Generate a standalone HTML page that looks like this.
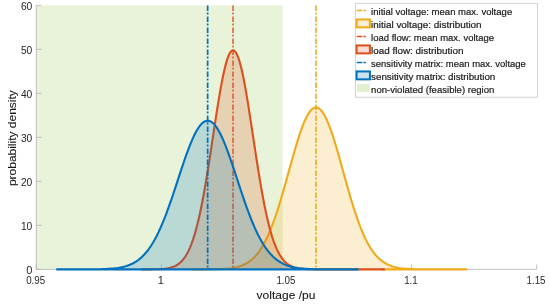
<!DOCTYPE html><html><head><meta charset="utf-8"><title>plot</title><style>html,body{margin:0;padding:0;background:#fff}svg{display:block}text{font-family:"Liberation Sans",sans-serif;fill:#1a1a1a;stroke:#1a1a1a;stroke-width:0.2px}text.t{fill:#262626;stroke:none}text.a{stroke-width:0.1px}</style></head><body>
<svg width="550" height="305" viewBox="0 0 550 305">
<rect width="550" height="305" fill="#fff"/>
<rect x="36.3" y="5.4" width="246.3" height="264.0" fill="#E9F3DA"/>
<g stroke="#b2b2b2" stroke-width="0.8" fill="none">
<path d="M36.3 5.4 V269.4 H536.6"/>
<path d="M36.30 269.4 v-5"/>
<path d="M161.38 269.4 v-5"/>
<path d="M286.45 269.4 v-5"/>
<path d="M411.53 269.4 v-5"/>
<path d="M536.60 269.4 v-5"/>
<path d="M36.3 269.40 h5"/>
<path d="M36.3 225.40 h5"/>
<path d="M36.3 181.40 h5"/>
<path d="M36.3 137.40 h5"/>
<path d="M36.3 93.40 h5"/>
<path d="M36.3 49.40 h5"/>
<path d="M36.3 5.40 h5"/>
</g>
<path d="M315.97 5.4 V269.4" stroke="#EFAB1A" stroke-width="1.6" stroke-dasharray="5.5 1.6 2.1 1.8" fill="none"/>
<path d="M191.39 269.40 L193.11 269.39 L194.83 269.39 L196.55 269.39 L198.27 269.39 L199.99 269.38 L201.71 269.38 L203.43 269.37 L205.15 269.36 L206.87 269.35 L208.59 269.34 L210.31 269.32 L212.03 269.30 L213.75 269.27 L215.47 269.23 L217.19 269.19 L218.91 269.13 L220.63 269.06 L222.35 268.98 L224.07 268.88 L225.79 268.76 L227.51 268.61 L229.23 268.43 L230.95 268.21 L232.67 267.95 L234.39 267.65 L236.11 267.28 L237.83 266.85 L239.55 266.35 L241.27 265.76 L242.99 265.07 L244.71 264.27 L246.43 263.36 L248.15 262.30 L249.87 261.10 L251.59 259.73 L253.31 258.18 L255.02 256.44 L256.74 254.48 L258.46 252.30 L260.18 249.88 L261.90 247.21 L263.62 244.27 L265.34 241.05 L267.06 237.55 L268.78 233.76 L270.50 229.69 L272.22 225.32 L273.94 220.67 L275.66 215.74 L277.38 210.56 L279.10 205.13 L280.82 199.49 L282.54 193.65 L284.26 187.66 L285.98 181.54 L287.70 175.35 L289.42 169.12 L291.14 162.91 L292.86 156.78 L294.58 150.76 L296.30 144.93 L298.02 139.33 L299.74 134.03 L301.46 129.07 L303.18 124.52 L304.90 120.42 L306.62 116.82 L308.34 113.76 L310.06 111.28 L311.78 109.40 L313.50 108.15 L315.22 107.54 L316.94 107.58 L318.66 108.27 L320.38 109.61 L322.10 111.56 L323.82 114.12 L325.54 117.25 L327.26 120.92 L328.98 125.08 L330.70 129.68 L332.42 134.68 L334.13 140.03 L335.85 145.66 L337.57 151.52 L339.29 157.55 L341.01 163.70 L342.73 169.91 L344.45 176.14 L346.17 182.32 L347.89 188.43 L349.61 194.40 L351.33 200.22 L353.05 205.84 L354.77 211.23 L356.49 216.39 L358.21 221.28 L359.93 225.89 L361.65 230.22 L363.37 234.26 L365.09 238.01 L366.81 241.47 L368.53 244.65 L370.25 247.56 L371.97 250.20 L373.69 252.59 L375.41 254.74 L377.13 256.67 L378.85 258.39 L380.57 259.92 L382.29 261.26 L384.01 262.44 L385.73 263.48 L387.45 264.38 L389.17 265.16 L390.89 265.84 L392.61 266.41 L394.33 266.91 L396.05 267.33 L397.77 267.69 L399.49 267.99 L401.21 268.24 L402.93 268.45 L404.65 268.63 L406.37 268.77 L408.09 268.89 L409.81 268.99 L411.53 269.07 L413.24 269.14 L414.96 269.19 L416.68 269.24 L418.40 269.27 L420.12 269.30 L421.84 269.32 L423.56 269.34 L425.28 269.35 L427.00 269.36 L428.72 269.37 L430.44 269.38 L432.16 269.38 L433.88 269.39 L435.60 269.39 L437.32 269.39 L439.04 269.39 L440.76 269.40 L442.48 269.40 L444.20 269.40 L445.92 269.40 L447.64 269.40 L449.36 269.40 L451.08 269.40 L452.80 269.40 L454.52 269.40 L456.24 269.40 L457.96 269.40 L459.68 269.40 L461.40 269.40 L463.12 269.40 L464.84 269.40 L466.56 269.40 Z" fill="#EFAB1A" fill-opacity="0.2" stroke="none"/>
<path d="M191.39 269.40 L193.11 269.39 L194.83 269.39 L196.55 269.39 L198.27 269.39 L199.99 269.38 L201.71 269.38 L203.43 269.37 L205.15 269.36 L206.87 269.35 L208.59 269.34 L210.31 269.32 L212.03 269.30 L213.75 269.27 L215.47 269.23 L217.19 269.19 L218.91 269.13 L220.63 269.06 L222.35 268.98 L224.07 268.88 L225.79 268.76 L227.51 268.61 L229.23 268.43 L230.95 268.21 L232.67 267.95 L234.39 267.65 L236.11 267.28 L237.83 266.85 L239.55 266.35 L241.27 265.76 L242.99 265.07 L244.71 264.27 L246.43 263.36 L248.15 262.30 L249.87 261.10 L251.59 259.73 L253.31 258.18 L255.02 256.44 L256.74 254.48 L258.46 252.30 L260.18 249.88 L261.90 247.21 L263.62 244.27 L265.34 241.05 L267.06 237.55 L268.78 233.76 L270.50 229.69 L272.22 225.32 L273.94 220.67 L275.66 215.74 L277.38 210.56 L279.10 205.13 L280.82 199.49 L282.54 193.65 L284.26 187.66 L285.98 181.54 L287.70 175.35 L289.42 169.12 L291.14 162.91 L292.86 156.78 L294.58 150.76 L296.30 144.93 L298.02 139.33 L299.74 134.03 L301.46 129.07 L303.18 124.52 L304.90 120.42 L306.62 116.82 L308.34 113.76 L310.06 111.28 L311.78 109.40 L313.50 108.15 L315.22 107.54 L316.94 107.58 L318.66 108.27 L320.38 109.61 L322.10 111.56 L323.82 114.12 L325.54 117.25 L327.26 120.92 L328.98 125.08 L330.70 129.68 L332.42 134.68 L334.13 140.03 L335.85 145.66 L337.57 151.52 L339.29 157.55 L341.01 163.70 L342.73 169.91 L344.45 176.14 L346.17 182.32 L347.89 188.43 L349.61 194.40 L351.33 200.22 L353.05 205.84 L354.77 211.23 L356.49 216.39 L358.21 221.28 L359.93 225.89 L361.65 230.22 L363.37 234.26 L365.09 238.01 L366.81 241.47 L368.53 244.65 L370.25 247.56 L371.97 250.20 L373.69 252.59 L375.41 254.74 L377.13 256.67 L378.85 258.39 L380.57 259.92 L382.29 261.26 L384.01 262.44 L385.73 263.48 L387.45 264.38 L389.17 265.16 L390.89 265.84 L392.61 266.41 L394.33 266.91 L396.05 267.33 L397.77 267.69 L399.49 267.99 L401.21 268.24 L402.93 268.45 L404.65 268.63 L406.37 268.77 L408.09 268.89 L409.81 268.99 L411.53 269.07 L413.24 269.14 L414.96 269.19 L416.68 269.24 L418.40 269.27 L420.12 269.30 L421.84 269.32 L423.56 269.34 L425.28 269.35 L427.00 269.36 L428.72 269.37 L430.44 269.38 L432.16 269.38 L433.88 269.39 L435.60 269.39 L437.32 269.39 L439.04 269.39 L440.76 269.40 L442.48 269.40 L444.20 269.40 L445.92 269.40 L447.64 269.40 L449.36 269.40 L451.08 269.40 L452.80 269.40 L454.52 269.40 L456.24 269.40 L457.96 269.40 L459.68 269.40 L461.40 269.40 L463.12 269.40 L464.84 269.40 L466.56 269.40 L381.51 269.40" fill="none" stroke="#EFAB1A" stroke-width="2.1" stroke-linejoin="round"/>
<path d="M233.04 5.4 V269.4" stroke="#DD4F1B" stroke-width="1.4" stroke-dasharray="5.5 1.6 2.1 1.8" fill="none"/>
<path d="M141.36 269.39 L142.88 269.39 L144.40 269.39 L145.91 269.38 L147.43 269.38 L148.95 269.37 L150.46 269.36 L151.98 269.34 L153.50 269.32 L155.01 269.29 L156.53 269.25 L158.04 269.20 L159.56 269.14 L161.08 269.05 L162.59 268.95 L164.11 268.81 L165.63 268.64 L167.14 268.42 L168.66 268.14 L170.18 267.80 L171.69 267.38 L173.21 266.86 L174.73 266.23 L176.24 265.45 L177.76 264.52 L179.28 263.41 L180.79 262.08 L182.31 260.51 L183.83 258.66 L185.34 256.51 L186.86 254.01 L188.38 251.13 L189.89 247.83 L191.41 244.09 L192.93 239.86 L194.44 235.13 L195.96 229.86 L197.47 224.05 L198.99 217.68 L200.51 210.75 L202.02 203.27 L203.54 195.26 L205.06 186.76 L206.57 177.81 L208.09 168.47 L209.61 158.82 L211.12 148.93 L212.64 138.91 L214.16 128.86 L215.67 118.90 L217.19 109.16 L218.71 99.76 L220.22 90.83 L221.74 82.51 L223.26 74.92 L224.77 68.17 L226.29 62.38 L227.81 57.64 L229.32 54.03 L230.84 51.60 L232.36 50.41 L233.87 50.47 L235.39 51.78 L236.90 54.31 L238.42 58.03 L239.94 62.87 L241.45 68.76 L242.97 75.59 L244.49 83.25 L246.00 91.64 L247.52 100.61 L249.04 110.05 L250.55 119.82 L252.07 129.79 L253.59 139.84 L255.10 149.86 L256.62 159.73 L258.14 169.36 L259.65 178.66 L261.17 187.57 L262.69 196.03 L264.20 203.99 L265.72 211.41 L267.24 218.29 L268.75 224.61 L270.27 230.37 L271.78 235.59 L273.30 240.27 L274.82 244.45 L276.33 248.16 L277.85 251.41 L279.37 254.26 L280.88 256.72 L282.40 258.85 L283.92 260.67 L285.43 262.21 L286.95 263.52 L288.47 264.62 L289.98 265.53 L291.50 266.29 L293.02 266.91 L294.53 267.42 L296.05 267.84 L297.57 268.17 L299.08 268.44 L300.60 268.65 L302.12 268.82 L303.63 268.96 L305.15 269.06 L306.67 269.14 L308.18 269.21 L309.70 269.25 L311.21 269.29 L312.73 269.32 L314.25 269.34 L315.76 269.36 L317.28 269.37 L318.80 269.38 L320.31 269.38 L321.83 269.39 L323.35 269.39 L324.86 269.39 L326.38 269.40 L327.90 269.40 L329.41 269.40 L330.93 269.40 L332.45 269.40 L333.96 269.40 L335.48 269.40 L337.00 269.40 L338.51 269.40 L340.03 269.40 L341.55 269.40 L343.06 269.40 L344.58 269.40 L346.10 269.40 L347.61 269.40 L349.13 269.40 L350.64 269.40 L352.16 269.40 L353.68 269.40 L355.19 269.40 L356.71 269.40 L358.23 269.40 L359.74 269.40 L361.26 269.40 L362.78 269.40 L364.29 269.40 L365.81 269.40 L367.33 269.40 L368.84 269.40 L370.36 269.40 L371.88 269.40 L373.39 269.40 L374.91 269.40 L376.43 269.40 L377.94 269.40 L379.46 269.40 L380.98 269.40 L382.49 269.40 L384.01 269.40 Z" fill="#DD4F1B" fill-opacity="0.2" stroke="none"/>
<path d="M141.36 269.39 L142.88 269.39 L144.40 269.39 L145.91 269.38 L147.43 269.38 L148.95 269.37 L150.46 269.36 L151.98 269.34 L153.50 269.32 L155.01 269.29 L156.53 269.25 L158.04 269.20 L159.56 269.14 L161.08 269.05 L162.59 268.95 L164.11 268.81 L165.63 268.64 L167.14 268.42 L168.66 268.14 L170.18 267.80 L171.69 267.38 L173.21 266.86 L174.73 266.23 L176.24 265.45 L177.76 264.52 L179.28 263.41 L180.79 262.08 L182.31 260.51 L183.83 258.66 L185.34 256.51 L186.86 254.01 L188.38 251.13 L189.89 247.83 L191.41 244.09 L192.93 239.86 L194.44 235.13 L195.96 229.86 L197.47 224.05 L198.99 217.68 L200.51 210.75 L202.02 203.27 L203.54 195.26 L205.06 186.76 L206.57 177.81 L208.09 168.47 L209.61 158.82 L211.12 148.93 L212.64 138.91 L214.16 128.86 L215.67 118.90 L217.19 109.16 L218.71 99.76 L220.22 90.83 L221.74 82.51 L223.26 74.92 L224.77 68.17 L226.29 62.38 L227.81 57.64 L229.32 54.03 L230.84 51.60 L232.36 50.41 L233.87 50.47 L235.39 51.78 L236.90 54.31 L238.42 58.03 L239.94 62.87 L241.45 68.76 L242.97 75.59 L244.49 83.25 L246.00 91.64 L247.52 100.61 L249.04 110.05 L250.55 119.82 L252.07 129.79 L253.59 139.84 L255.10 149.86 L256.62 159.73 L258.14 169.36 L259.65 178.66 L261.17 187.57 L262.69 196.03 L264.20 203.99 L265.72 211.41 L267.24 218.29 L268.75 224.61 L270.27 230.37 L271.78 235.59 L273.30 240.27 L274.82 244.45 L276.33 248.16 L277.85 251.41 L279.37 254.26 L280.88 256.72 L282.40 258.85 L283.92 260.67 L285.43 262.21 L286.95 263.52 L288.47 264.62 L289.98 265.53 L291.50 266.29 L293.02 266.91 L294.53 267.42 L296.05 267.84 L297.57 268.17 L299.08 268.44 L300.60 268.65 L302.12 268.82 L303.63 268.96 L305.15 269.06 L306.67 269.14 L308.18 269.21 L309.70 269.25 L311.21 269.29 L312.73 269.32 L314.25 269.34 L315.76 269.36 L317.28 269.37 L318.80 269.38 L320.31 269.38 L321.83 269.39 L323.35 269.39 L324.86 269.39 L326.38 269.40 L327.90 269.40 L329.41 269.40 L330.93 269.40 L332.45 269.40 L333.96 269.40 L335.48 269.40 L337.00 269.40 L338.51 269.40 L340.03 269.40 L341.55 269.40 L343.06 269.40 L344.58 269.40 L346.10 269.40 L347.61 269.40 L349.13 269.40 L350.64 269.40 L352.16 269.40 L353.68 269.40 L355.19 269.40 L356.71 269.40 L358.23 269.40 L359.74 269.40 L361.26 269.40 L362.78 269.40 L364.29 269.40 L365.81 269.40 L367.33 269.40 L368.84 269.40 L370.36 269.40 L371.88 269.40 L373.39 269.40 L374.91 269.40 L376.43 269.40 L377.94 269.40 L379.46 269.40 L380.98 269.40 L382.49 269.40 L384.01 269.40 L355.24 269.40" fill="none" stroke="#DD4F1B" stroke-width="2.1" stroke-linejoin="round"/>
<path d="M207.65 5.4 V269.4" stroke="#0072BD" stroke-width="1.7" stroke-dasharray="5.5 1.6 2.1 1.8" fill="none"/>
<path d="M57.06 269.40 L58.94 269.40 L60.82 269.40 L62.70 269.40 L64.58 269.40 L66.46 269.40 L68.34 269.40 L70.22 269.40 L72.10 269.40 L73.98 269.39 L75.85 269.39 L77.73 269.39 L79.61 269.39 L81.49 269.38 L83.37 269.38 L85.25 269.37 L87.13 269.36 L89.01 269.35 L90.89 269.34 L92.77 269.32 L94.65 269.30 L96.53 269.28 L98.41 269.24 L100.29 269.20 L102.16 269.15 L104.04 269.08 L105.92 269.01 L107.80 268.91 L109.68 268.80 L111.56 268.65 L113.44 268.49 L115.32 268.28 L117.20 268.04 L119.08 267.75 L120.96 267.40 L122.84 267.00 L124.72 266.52 L126.59 265.97 L128.47 265.32 L130.35 264.57 L132.23 263.71 L134.11 262.71 L135.99 261.58 L137.87 260.29 L139.75 258.84 L141.63 257.20 L143.51 255.36 L145.39 253.31 L147.27 251.03 L149.15 248.52 L151.03 245.76 L152.90 242.75 L154.78 239.47 L156.66 235.92 L158.54 232.11 L160.42 228.03 L162.30 223.69 L164.18 219.10 L166.06 214.27 L167.94 209.22 L169.82 203.97 L171.70 198.55 L173.58 193.00 L175.46 187.34 L177.33 181.62 L179.21 175.88 L181.09 170.17 L182.97 164.53 L184.85 159.03 L186.73 153.70 L188.61 148.61 L190.49 143.80 L192.37 139.33 L194.25 135.24 L196.13 131.59 L198.01 128.41 L199.89 125.74 L201.76 123.61 L203.64 122.04 L205.52 121.07 L207.40 120.69 L209.28 120.91 L211.16 121.73 L213.04 123.14 L214.92 125.12 L216.80 127.65 L218.68 130.70 L220.56 134.23 L222.44 138.20 L224.32 142.57 L226.20 147.30 L228.07 152.32 L229.95 157.59 L231.83 163.05 L233.71 168.66 L235.59 174.35 L237.47 180.09 L239.35 185.82 L241.23 191.50 L243.11 197.08 L244.99 202.54 L246.87 207.84 L248.75 212.94 L250.63 217.83 L252.50 222.49 L254.38 226.90 L256.26 231.05 L258.14 234.94 L260.02 238.55 L261.90 241.90 L263.78 244.99 L265.66 247.81 L267.54 250.39 L269.42 252.72 L271.30 254.83 L273.18 256.73 L275.06 258.42 L276.93 259.92 L278.81 261.25 L280.69 262.43 L282.57 263.45 L284.45 264.35 L286.33 265.13 L288.21 265.80 L290.09 266.38 L291.97 266.88 L293.85 267.30 L295.73 267.66 L297.61 267.97 L299.49 268.22 L301.37 268.43 L303.24 268.61 L305.12 268.76 L307.00 268.88 L308.88 268.98 L310.76 269.07 L312.64 269.13 L314.52 269.19 L316.40 269.23 L318.28 269.27 L320.16 269.30 L322.04 269.32 L323.92 269.34 L325.80 269.35 L327.67 269.36 L329.55 269.37 L331.43 269.38 L333.31 269.38 L335.19 269.39 L337.07 269.39 L338.95 269.39 L340.83 269.39 L342.71 269.40 L344.59 269.40 L346.47 269.40 L348.35 269.40 L350.23 269.40 L352.10 269.40 L353.98 269.40 L355.86 269.40 L357.74 269.40 Z" fill="#0072BD" fill-opacity="0.2" stroke="none"/>
<path d="M57.06 269.40 L58.94 269.40 L60.82 269.40 L62.70 269.40 L64.58 269.40 L66.46 269.40 L68.34 269.40 L70.22 269.40 L72.10 269.40 L73.98 269.39 L75.85 269.39 L77.73 269.39 L79.61 269.39 L81.49 269.38 L83.37 269.38 L85.25 269.37 L87.13 269.36 L89.01 269.35 L90.89 269.34 L92.77 269.32 L94.65 269.30 L96.53 269.28 L98.41 269.24 L100.29 269.20 L102.16 269.15 L104.04 269.08 L105.92 269.01 L107.80 268.91 L109.68 268.80 L111.56 268.65 L113.44 268.49 L115.32 268.28 L117.20 268.04 L119.08 267.75 L120.96 267.40 L122.84 267.00 L124.72 266.52 L126.59 265.97 L128.47 265.32 L130.35 264.57 L132.23 263.71 L134.11 262.71 L135.99 261.58 L137.87 260.29 L139.75 258.84 L141.63 257.20 L143.51 255.36 L145.39 253.31 L147.27 251.03 L149.15 248.52 L151.03 245.76 L152.90 242.75 L154.78 239.47 L156.66 235.92 L158.54 232.11 L160.42 228.03 L162.30 223.69 L164.18 219.10 L166.06 214.27 L167.94 209.22 L169.82 203.97 L171.70 198.55 L173.58 193.00 L175.46 187.34 L177.33 181.62 L179.21 175.88 L181.09 170.17 L182.97 164.53 L184.85 159.03 L186.73 153.70 L188.61 148.61 L190.49 143.80 L192.37 139.33 L194.25 135.24 L196.13 131.59 L198.01 128.41 L199.89 125.74 L201.76 123.61 L203.64 122.04 L205.52 121.07 L207.40 120.69 L209.28 120.91 L211.16 121.73 L213.04 123.14 L214.92 125.12 L216.80 127.65 L218.68 130.70 L220.56 134.23 L222.44 138.20 L224.32 142.57 L226.20 147.30 L228.07 152.32 L229.95 157.59 L231.83 163.05 L233.71 168.66 L235.59 174.35 L237.47 180.09 L239.35 185.82 L241.23 191.50 L243.11 197.08 L244.99 202.54 L246.87 207.84 L248.75 212.94 L250.63 217.83 L252.50 222.49 L254.38 226.90 L256.26 231.05 L258.14 234.94 L260.02 238.55 L261.90 241.90 L263.78 244.99 L265.66 247.81 L267.54 250.39 L269.42 252.72 L271.30 254.83 L273.18 256.73 L275.06 258.42 L276.93 259.92 L278.81 261.25 L280.69 262.43 L282.57 263.45 L284.45 264.35 L286.33 265.13 L288.21 265.80 L290.09 266.38 L291.97 266.88 L293.85 267.30 L295.73 267.66 L297.61 267.97 L299.49 268.22 L301.37 268.43 L303.24 268.61 L305.12 268.76 L307.00 268.88 L308.88 268.98 L310.76 269.07 L312.64 269.13 L314.52 269.19 L316.40 269.23 L318.28 269.27 L320.16 269.30 L322.04 269.32 L323.92 269.34 L325.80 269.35 L327.67 269.36 L329.55 269.37 L331.43 269.38 L333.31 269.38 L335.19 269.39 L337.07 269.39 L338.95 269.39 L340.83 269.39 L342.71 269.40 L344.59 269.40 L346.47 269.40 L348.35 269.40 L350.23 269.40 L352.10 269.40 L353.98 269.40 L355.86 269.40 L357.74 269.40 Z" fill="none" stroke="#0072BD" stroke-width="2.1" stroke-linejoin="round"/>
<text class="t" x="35.7" y="284" font-size="11" text-anchor="middle" textLength="19.0" lengthAdjust="spacingAndGlyphs">0.95</text>
<text class="t" x="160.8" y="284" font-size="11" text-anchor="middle">1</text>
<text class="t" x="285.9" y="284" font-size="11" text-anchor="middle" textLength="19.0" lengthAdjust="spacingAndGlyphs">1.05</text>
<text class="t" x="410.9" y="284" font-size="11" text-anchor="middle" textLength="13.4" lengthAdjust="spacingAndGlyphs">1.1</text>
<text class="t" x="536.0" y="284" font-size="11" text-anchor="middle" textLength="19.0" lengthAdjust="spacingAndGlyphs">1.15</text>
<text class="t" x="32.3" y="274.2" font-size="11" text-anchor="end">0</text>
<text class="t" x="32.3" y="230.2" font-size="11" text-anchor="end" textLength="11.4" lengthAdjust="spacingAndGlyphs">10</text>
<text class="t" x="32.3" y="186.2" font-size="11" text-anchor="end" textLength="11.4" lengthAdjust="spacingAndGlyphs">20</text>
<text class="t" x="32.3" y="142.2" font-size="11" text-anchor="end" textLength="11.4" lengthAdjust="spacingAndGlyphs">30</text>
<text class="t" x="32.3" y="98.2" font-size="11" text-anchor="end" textLength="11.4" lengthAdjust="spacingAndGlyphs">40</text>
<text class="t" x="32.3" y="54.2" font-size="11" text-anchor="end" textLength="11.4" lengthAdjust="spacingAndGlyphs">50</text>
<text class="t" x="32.3" y="10.2" font-size="11" text-anchor="end" textLength="11.4" lengthAdjust="spacingAndGlyphs">60</text>
<text class="a" x="256.6" y="299" font-size="11.3" textLength="58.8" lengthAdjust="spacingAndGlyphs">voltage /pu</text>
<text transform="translate(15.7,186.1) rotate(-90)" class="a" font-size="11.3" textLength="95.9" lengthAdjust="spacingAndGlyphs">probability density</text>
<rect x="355.4" y="3.3" width="182.2" height="93.9" fill="#fff" stroke="#c8c8c8" stroke-width="0.8"/>
<path d="M356.7 10.6 H366" stroke="#EFAB1A" stroke-width="1.5" stroke-dasharray="5.6 1.1 2.4 1.1" fill="none"/>
<text x="371.1" y="14.5" font-size="9.5" textLength="141.1" lengthAdjust="spacingAndGlyphs">initial voltage: mean max. voltage</text>
<rect x="356.6" y="19.45" width="13.3" height="7.9" fill="#EFAB1A" fill-opacity="0.2" stroke="#EFAB1A" stroke-width="2"/>
<text x="371.1" y="27.5" font-size="9.5" textLength="110.5" lengthAdjust="spacingAndGlyphs">initial voltage: distribution</text>
<path d="M356.7 36.6 H366" stroke="#DD4F1B" stroke-width="1.5" stroke-dasharray="5.6 1.1 2.4 1.1" fill="none"/>
<text x="371.1" y="40.5" font-size="9.5" textLength="122.9" lengthAdjust="spacingAndGlyphs">load flow: mean max. voltage</text>
<rect x="356.6" y="45.45" width="13.3" height="7.9" fill="#DD4F1B" fill-opacity="0.2" stroke="#DD4F1B" stroke-width="2"/>
<text x="371.1" y="53.5" font-size="9.5" textLength="92.3" lengthAdjust="spacingAndGlyphs">load flow: distribution</text>
<path d="M356.7 62.6 H366" stroke="#0072BD" stroke-width="1.5" stroke-dasharray="5.6 1.1 2.4 1.1" fill="none"/>
<text x="371.1" y="66.5" font-size="9.5" textLength="154.8" lengthAdjust="spacingAndGlyphs">sensitivity matrix: mean max. voltage</text>
<rect x="356.6" y="71.45" width="13.3" height="7.9" fill="#0072BD" fill-opacity="0.2" stroke="#0072BD" stroke-width="2"/>
<text x="371.1" y="79.5" font-size="9.5" textLength="124.2" lengthAdjust="spacingAndGlyphs">sensitivity matrix: distribution</text>
<rect x="356.8" y="84.10" width="13.1" height="8" fill="#E3F0D0"/>
<text x="371.1" y="92.5" font-size="9.5" textLength="123.2" lengthAdjust="spacingAndGlyphs">non-violated (feasible) region</text>
</svg></body></html>
